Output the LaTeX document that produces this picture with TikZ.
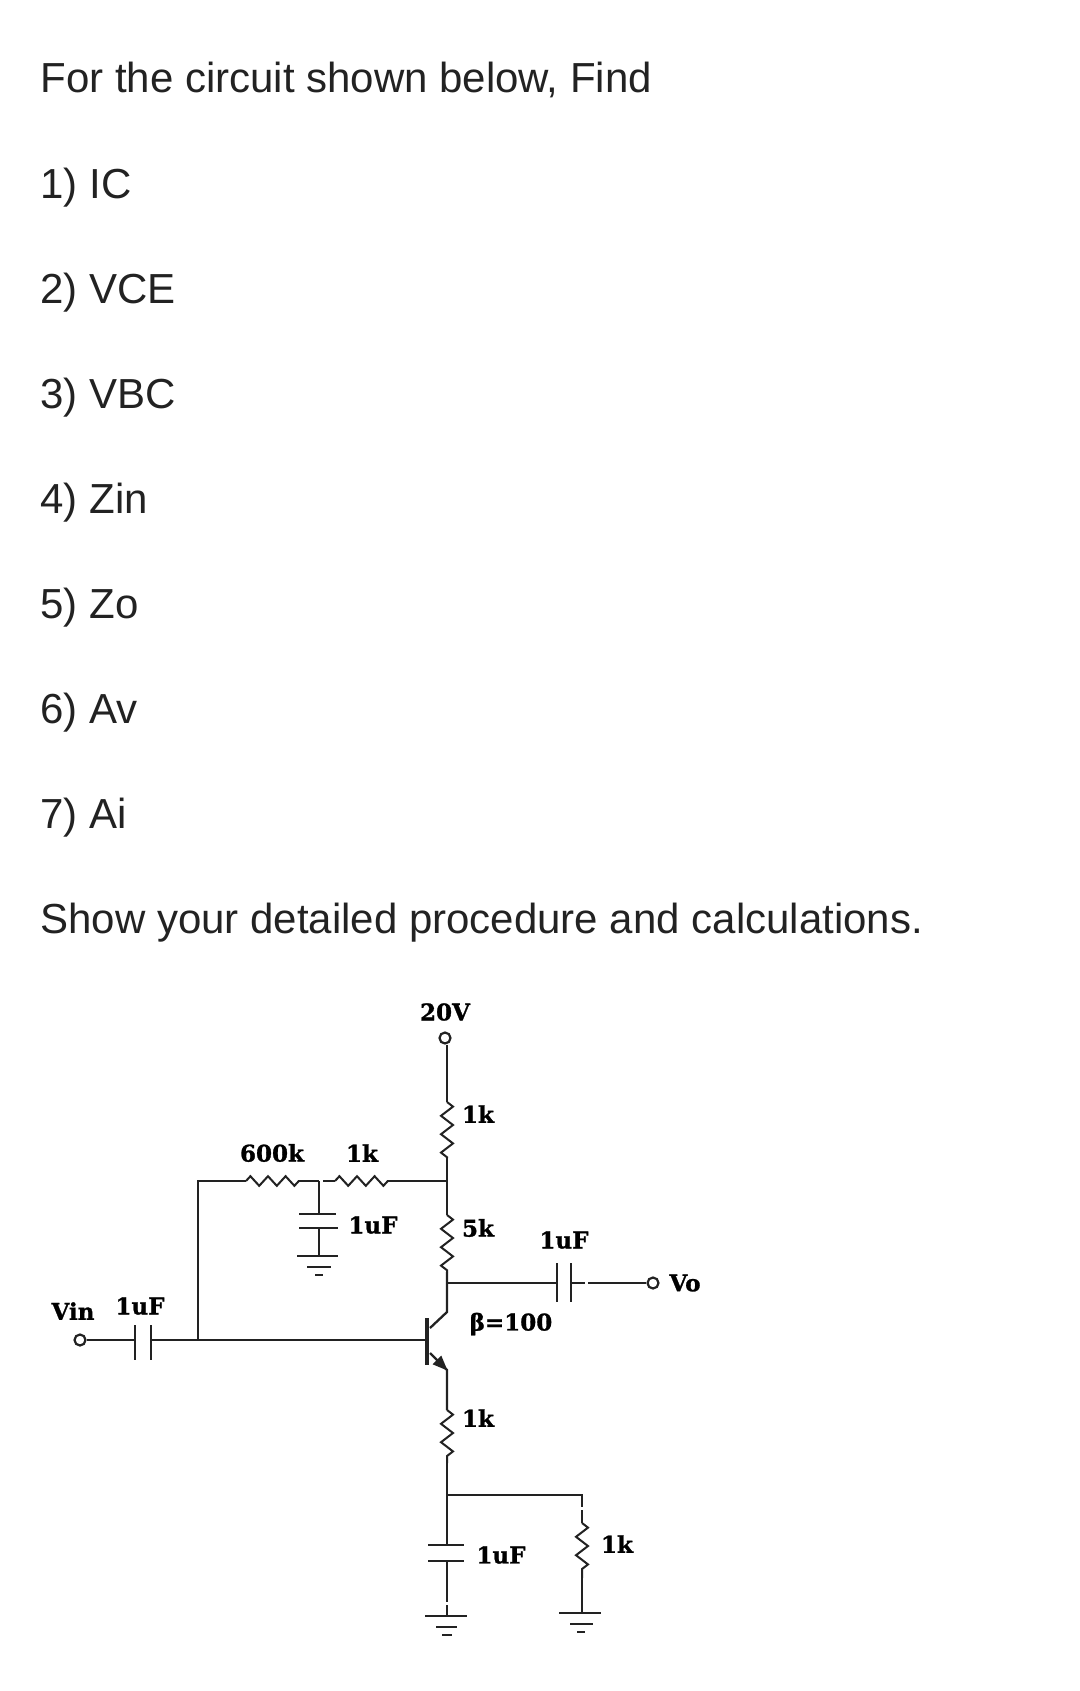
\documentclass[tikz,border=0pt]{standalone}
\usepackage{fontspec}
\setmainfont{Liberation Sans}
\newfontfamily\labfont[BoldFeatures={FakeBold=1.2}]{DejaVu Serif}
\usetikzlibrary{decorations.pathmorphing,arrows.meta}
\definecolor{txt}{HTML}{222222}
\definecolor{wire}{HTML}{222222}
\tikzset{
  qtext/.style={anchor=base west,inner sep=0pt,text=txt,font=\fontsize{21}{24}\selectfont},
  wr/.style={draw=wire,line width=1.15pt,line cap=butt},
  plate/.style={draw=wire,line width=1.25pt},
  gnd/.style={draw=wire,line width=1.25pt},
  rv/.style={wr,line width=1pt,decorate,decoration={zigzag,amplitude=3pt,segment length=9.2pt}},
  rh/.style={wr,line width=1pt,decorate,decoration={zigzag,amplitude=2.4pt,segment length=8.8pt}},
  term/.style={circle,draw=wire,fill=white,line width=1.1pt,minimum size=5.5pt,inner sep=0pt},
  lab/.style={inner sep=0pt,text=black,font=\labfont\bfseries\fontsize{11.5}{14}\selectfont},
}
\begin{document}
\begin{tikzpicture}[x=0.5pt,y=-0.5pt]
\useasboundingbox[fill=white] (0,0) rectangle (1080,1691);
% question text
\node[qtext] (t0) at (40,93) {For the circuit shown below, Find};
\node[qtext] (t1) at (40,198) {1) IC};
\node[qtext] (t2) at (40,303) {2) VCE};
\node[qtext] (t3) at (40,408) {3) VBC};
\node[qtext] (t4) at (40,513) {4) Zin};
\node[qtext] (t5) at (40,618) {5) Zo};
\node[qtext] (t6) at (40,723) {6) Av};
\node[qtext] (t7) at (40,828) {7) Ai};
\node[qtext] (t8) at (40,933) {Show your detailed procedure and calculations.};
% terminals
\node[term] (vcc) at (445,1038) {};
\node[term] (vin) at (80,1340) {};
\node[term] (vo) at (653,1283) {};
% coordinates
\coordinate (r1t) at (447,1102);
\coordinate (r1b) at (447,1158);
\coordinate (j1) at (447,1181);
\coordinate (r2t) at (447,1215);
\coordinate (r2b) at (447,1272);
\coordinate (jo) at (447,1283);
\coordinate (cc) at (447,1312);
\coordinate (bc) at (430,1328);
\coordinate (bt) at (427,1318);
\coordinate (bb) at (427,1365);
\coordinate (bm) at (427,1340);
\coordinate (be) at (430,1353);
\coordinate (ee) at (447,1370);
\coordinate (r3t) at (447,1410);
\coordinate (r3b) at (447,1463);
\coordinate (j2) at (447,1495);
% VCC rail
\draw[wr] (vcc.south -| r1t) -- (r1t);
\draw[rv] (r1t) -- (r1b);
\draw[wr] (r1b) -- (j1) -- (r2t);
\draw[rv] (r2t) -- (r2b);
\draw[wr] (r2b) -- (cc) -- (bc);
% transistor
\draw[draw=wire,line width=1.9pt] (bt) -- (bb);
\draw[wr] (be) -- (ee) -- (r3t);
\draw[draw=wire,fill=wire,line width=0.8pt] (446,1369) -- (434,1364) -- (441,1357) -- cycle;
% emitter
\draw[rv] (r3t) -- (r3b);
\draw[wr] (r3b) -- (j2);
% bias network
\coordinate (bl) at (198,1340);
\coordinate (tl) at (198,1181);
\coordinate (r4l) at (246,1181);
\coordinate (r4r) at (299,1181);
\coordinate (j3) at (319,1181);
\coordinate (j3r) at (323,1181);
\coordinate (r5l) at (335,1181);
\coordinate (r5r) at (388,1181);
\draw[wr] (bm) -- (bl);
\draw[wr] (bl) -- (tl) -- (r4l);
\draw[rh] (r4l) -- (r4r);
\draw[wr] (r4r) -- (j3);
\draw[wr] (j3r) -- (r5l);
\draw[rh] (r5l) -- (r5r);
\draw[wr] (r5r) -- (j1);
% bias capacitor
\coordinate (c1t) at (319,1214);
\coordinate (c1b) at (319,1228);
\coordinate (g1) at (319,1256);
\draw[wr] (j3) -- (c1t);
\draw[plate] (299,1214) -- (336,1214);
\draw[plate] (299,1228) -- (338,1228);
\draw[wr] (c1b) -- (g1);
\draw[gnd] (297,1256) -- (338,1256);
\draw[gnd] (307,1267) -- (331,1267);
\draw[gnd] (315,1275) -- (323,1275);
% input capacitor
\coordinate (c2l) at (135,1340);
\coordinate (c2r) at (151,1340);
\draw[wr] (vin) -- (c2l);
\draw[plate] (135,1325) -- (135,1360);
\draw[plate] (151,1325) -- (151,1360);
\draw[wr] (c2r) -- (bl);
% output capacitor
\coordinate (c3l) at (557,1283);
\coordinate (c3r) at (571,1283);
\coordinate (c3g) at (585,1283);
\coordinate (c3h) at (588,1283);
\draw[wr] (jo) -- (c3l);
\draw[plate] (557,1263) -- (557,1302);
\draw[plate] (571,1263) -- (571,1302);
\draw[wr] (c3r) -- (c3g);
\draw[wr] (c3h) -- (vo);
% emitter capacitor
\coordinate (c4t) at (447,1545);
\coordinate (c4b) at (447,1561);
\coordinate (c4g) at (447,1602);
\coordinate (c4h) at (447,1605);
\coordinate (g2) at (447,1616);
\draw[wr] (j2) -- (c4t);
\draw[plate] (428,1545) -- (464,1545);
\draw[plate] (428,1561) -- (464,1561);
\draw[wr] (c4b) -- (c4g);
\draw[wr] (c4h) -- (g2);
\draw[gnd] (425,1616) -- (467,1616);
\draw[gnd] (436,1627) -- (457,1627);
\draw[gnd] (442,1635) -- (452,1635);
% emitter branch
\coordinate (k1) at (582,1495);
\coordinate (k2) at (582,1507);
\coordinate (k3) at (582,1510);
\coordinate (r6t) at (582,1523);
\coordinate (r6b) at (582,1578);
\coordinate (g3) at (582,1613);
\draw[wr] (j2) -- (k1) -- (k2);
\draw[wr] (k3) -- (r6t);
\draw[rv] (r6t) -- (r6b);
\draw[wr] (r6b) -- (g3);
\draw[gnd] (559,1613) -- (601,1613);
\draw[gnd] (570,1624) -- (593,1624);
\draw[gnd] (577,1632) -- (585,1632);
% labels
\node[lab] (l20) at (445,1012) {20V};
\node[lab] (l600) at (272,1153) {600k};
\node[lab] (l1a) at (362,1153) {1k};
\node[lab] (lc1) at (373,1225) {1uF};
\node[lab] (l1b) at (478,1114) {1k};
\node[lab] (l5) at (478,1228) {5k};
\node[lab] (lc3) at (564,1240) {1uF};
\node[lab] (lvo) at (685,1283) {Vo};
\node[lab] (lvin) at (73,1311) {Vin};
\node[lab] (lc2) at (140,1306) {1uF};
\node[lab] (lb) at (511,1324) {β=100};
\node[lab] (l1c) at (478,1418) {1k};
\node[lab] (lc4) at (501,1555) {1uF};
\node[lab] (l1d) at (617,1544) {1k};
\end{tikzpicture}
\end{document}
